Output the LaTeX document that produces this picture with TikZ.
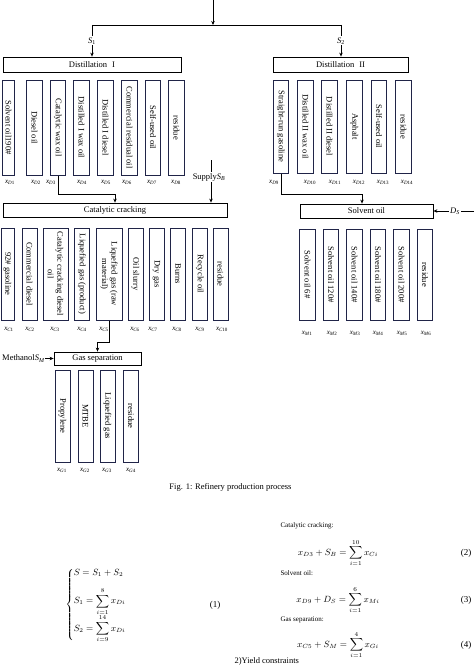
\documentclass[tikz,border=0pt]{standalone}
\usepackage{amsmath}
\usepackage{fontspec}
\setmainfont{Liberation Serif}
\usepackage{tikz}
\usetikzlibrary{arrows.meta}
\usetikzlibrary{positioning}

\definecolor{boxnavy}{RGB}{32,36,72}
\newcommand{\boxfont}{\fontsize{8.5}{9.5}\selectfont}
\newcommand{\labfont}{\fontsize{7}{8}\selectfont}
\newcommand{\eqfont}{\fontsize{9}{11}\selectfont}
\newcommand{\flowvar}[2]{\textit{x}\textsubscript{\textit{#1}#2}}

\begin{document}
\begin{tikzpicture}[
    x=1pt, y=-1pt,
    unitbox/.style={draw, line width=0.8pt, inner sep=0pt, font=\boxfont},
    prodbox/.style={draw=boxnavy, line width=1pt, rotate=-90, inner sep=1pt, align=center, font=\boxfont},
    xlab/.style={inner sep=0pt, font=\labfont},
    flow/.style={draw, line width=0.9pt, -{Stealth[length=4pt,width=3.5pt]}},
    pipe/.style={draw, line width=0.9pt}
]
    \useasboundingbox (0,0) rectangle (474,669);

    % Feed split
    \coordinate (feed) at (213,0);
    \coordinate (split) at (213,25);
    \coordinate (j1) at (92,25);
    \coordinate (j2) at (341,25);

    % Distillation units
    \node[unitbox, minimum width=178, minimum height=15] (dist1) at (92,64.5) {Distillation\hspace{5pt}I};
    \node[unitbox, minimum width=135, minimum height=15] (dist2) at (340.5,64.5) {Distillation\hspace{5pt}II};

    \draw[flow] (feed) -- (split);
    \draw[pipe] (j1) -- (j2);
    \draw[flow] (j1) -- node[fill=white, inner sep=1pt, font=\boxfont] {\textit{S}\textsubscript{1}} (dist1.north);
    \draw[flow] (j2) -- node[fill=white, inner sep=1pt, font=\boxfont] {\textit{S}\textsubscript{2}} (j2 |- dist2.north);

    % Distillation I: products
    \node[prodbox, minimum width=95, minimum height=12] (d1) at (8.5,127.5) {Solvent oil190\#};
    \node[prodbox, minimum width=95, minimum height=15.5] (d2) at (34.5,127.5) {Diesel oil};
    \node[prodbox, minimum width=95, minimum height=15.5] (d3) at (58,127.5) {Catalytic wax oil};
    \node[prodbox, minimum width=95, minimum height=15.5] (d4) at (81.5,127.5) {Distilled I wax oil};
    \node[prodbox, minimum width=95, minimum height=15.5] (d5) at (105.5,127.5) {Distilled I diesel};
    \node[prodbox, minimum width=95, minimum height=15.5] (d6) at (129.5,127.5) {Commercial residual oil};
    \node[prodbox, minimum width=95, minimum height=15.5] (d7) at (153,127.5) {Self-used oil};
    \node[prodbox, minimum width=95, minimum height=15.5] (d8) at (176.5,127.5) {residue};

    \node[xlab] (xd1) at (10,182) {\flowvar{D}{1}};
    \node[xlab] (xd2) at (36,182) {\flowvar{D}{2}};
    \node[xlab] (xd3) at (51,182) {\flowvar{D}{3}};
    \node[xlab] (xd4) at (82,182) {\flowvar{D}{4}};
    \node[xlab] (xd5) at (106,182) {\flowvar{D}{5}};
    \node[xlab] (xd6) at (127,182) {\flowvar{D}{6}};
    \node[xlab] (xd7) at (152,182) {\flowvar{D}{7}};
    \node[xlab] (xd8) at (176,182) {\flowvar{D}{8}};

    % Distillation II: products
    \node[prodbox, minimum width=93, minimum height=15.5] (d9) at (281,126.5) {Straight-run gasoline};
    \node[prodbox, minimum width=93, minimum height=15.5] (d10) at (305.5,126.5) {Distilled II wax oil};
    \node[prodbox, minimum width=93, minimum height=15.5] (d11) at (329.5,126.5) {Distilled II diesel};
    \node[prodbox, minimum width=93, minimum height=15.5] (d12) at (354.5,126.5) {Asphalt};
    \node[prodbox, minimum width=93, minimum height=15.5] (d13) at (379,126.5) {Self-used oil};
    \node[prodbox, minimum width=93, minimum height=15.5] (d14) at (403.5,126.5) {residue};

    \node[xlab] (xd9) at (274,182) {\flowvar{D}{9}};
    \node[xlab] (xd10) at (310,182) {\flowvar{D}{10}};
    \node[xlab] (xd11) at (335,182) {\flowvar{D}{11}};
    \node[xlab] (xd12) at (359,182) {\flowvar{D}{12}};
    \node[xlab] (xd13) at (383,182) {\flowvar{D}{13}};
    \node[xlab] (xd14) at (407,182) {\flowvar{D}{14}};

    % Catalytic cracking and solvent oil units
    \node[unitbox, minimum width=224, minimum height=14] (cat) at (115,210) {Catalytic cracking};
    \node[unitbox, minimum width=133, minimum height=14] (solv) at (366.5,211) {Solvent oil};

    \coordinate (sbtop) at (211,160);
    \node[inner sep=1pt, font=\boxfont] (supply) at (209,177) {Supply\textit{S}\textsubscript{\textit{B}}};
    \draw[pipe] (sbtop) -- (sbtop |- supply.north);
    \draw[flow] (sbtop |- supply.south) -- (sbtop |- cat.north);
    \draw[flow] (d3.east) -- ++(0,19) -| (cat.north);

    \draw[flow] (d9.east) -- ++(0,21) -| ([xshift=-4.5pt]solv.north);
    \coordinate (dsin) at (474,211);
    \node[inner sep=1pt, font=\boxfont] (ds) at (455,211) {\textit{D}\textsubscript{\textit{S}}};
    \draw[pipe] (dsin) -- (ds);
    \draw[flow] (ds) -- (solv.east);

    % Catalytic cracking: products
    \node[prodbox, minimum width=92, minimum height=13] (c1) at (7.5,274) {92\# gasoline};
    \node[prodbox, minimum width=92, minimum height=15] (c2) at (29.5,274) {Commercial diesel};
    \node[prodbox, minimum width=92, minimum height=25] (c3) at (55.5,274) {Catalytic cracking diesel\\oil};
    \node[prodbox, minimum width=92, minimum height=14.5] (c4) at (82,274) {Liquefied gas (product)};
    \node[prodbox, minimum width=92, minimum height=26] (c5) at (109,274) {Liquefied gas (raw\\material)};
    \node[prodbox, minimum width=92, minimum height=15] (c6) at (135.5,274) {Oil slurry};
    \node[prodbox, minimum width=92, minimum height=15] (c7) at (156.5,274) {Dry gas};
    \node[prodbox, minimum width=92, minimum height=15.5] (c8) at (178,274) {Burns};
    \node[prodbox, minimum width=92, minimum height=15.5] (c9) at (200,274) {Recycle oil};
    \node[prodbox, minimum width=92, minimum height=15] (c10) at (220.5,274) {residue};

    \node[xlab] (xc1) at (9,329) {\flowvar{C}{1}};
    \node[xlab] (xc2) at (30,329) {\flowvar{C}{2}};
    \node[xlab] (xc3) at (55,329) {\flowvar{C}{3}};
    \node[xlab] (xc4) at (82,329) {\flowvar{C}{4}};
    \node[xlab] (xc5) at (104,329) {\flowvar{C}{5}};
    \node[xlab] (xc6) at (135,329) {\flowvar{C}{6}};
    \node[xlab] (xc7) at (153,329) {\flowvar{C}{7}};
    \node[xlab] (xc8) at (177,329) {\flowvar{C}{8}};
    \node[xlab] (xc9) at (200,329) {\flowvar{C}{9}};
    \node[xlab] (xc10) at (222,329) {\flowvar{C}{10}};

    % Solvent oil: products
    \node[prodbox, minimum width=91, minimum height=15.5] (m1) at (307.5,274.5) {Solvent oil 6\#};
    \node[prodbox, minimum width=91, minimum height=15.5] (m2) at (331,274.5) {Solvent oil 120\#};
    \node[prodbox, minimum width=91, minimum height=15.5] (m3) at (354.5,274.5) {Solvent oil 140\#};
    \node[prodbox, minimum width=91, minimum height=15.5] (m4) at (378,274.5) {Solvent oil 180\#};
    \node[prodbox, minimum width=91, minimum height=15.5] (m5) at (401.5,274.5) {Solvent oil 200\#};
    \node[prodbox, minimum width=91, minimum height=15.5] (m6) at (425,274.5) {residue};

    \node[xlab] (xm1) at (307,333) {\flowvar{M}{1}};
    \node[xlab] (xm2) at (332,333) {\flowvar{M}{2}};
    \node[xlab] (xm3) at (355,333) {\flowvar{M}{3}};
    \node[xlab] (xm4) at (378,333) {\flowvar{M}{4}};
    \node[xlab] (xm5) at (402,333) {\flowvar{M}{5}};
    \node[xlab] (xm6) at (426,333) {\flowvar{M}{6}};

    % Gas separation
    \node[unitbox, minimum width=87, minimum height=13] (gas) at (97.5,358.5) {Gas separation};
    \node[anchor=east, inner sep=0pt, font=\boxfont] (meth) at (45,358.5) {Methanol\textit{S}\textsubscript{\textit{M}}};
    \draw[flow] (meth) -- (gas.west);
    \draw[flow] (c5.east) -- ++(0,22) -| (gas.north);

    \node[prodbox, minimum width=92, minimum height=15] (g1) at (62.5,416) {Propylene};
    \node[prodbox, minimum width=92, minimum height=15] (g2) at (85.5,416) {MTBE};
    \node[prodbox, minimum width=92, minimum height=15] (g3) at (107.5,416) {Liquefied gas};
    \node[prodbox, minimum width=92, minimum height=15] (g4) at (131,416) {residue};

    \node[xlab] (xg1) at (62,470) {\flowvar{G}{1}};
    \node[xlab] (xg2) at (85,470) {\flowvar{G}{2}};
    \node[xlab] (xg3) at (107,470) {\flowvar{G}{3}};
    \node[xlab] (xg4) at (131,470) {\flowvar{G}{4}};

    \node[font=\boxfont] (caption) at (230.5,487) {Fig. 1: Refinery production process};

    % Balance equations
    \node[anchor=west, font=\eqfont] (eq1) at (62,605) {$\left\{\begin{array}{@{}l@{}}
        S = S_1 + S_2\\[9pt]
        S_1 = \displaystyle\sum_{i=1}^{8} x_{Di}\\[7pt]
        S_2 = \displaystyle\sum_{i=9}^{14} x_{Di}
        \end{array}\right.$};
    \node[font=\eqfont] (eq1n) at (215,605) {(1)};

    \node[anchor=west, font=\labfont] (cattxt) at (277,526) {Catalytic cracking:};
    \node[font=\eqfont] (eq2) at (338,553) {$x_{D3} + S_B = \displaystyle\sum_{i=1}^{10} x_{Ci}$};
    \node[font=\eqfont] (eq2n) at (466,553) {(2)};

    \node[anchor=west, font=\labfont] (solvtxt) at (277,573) {Solvent oil:};
    \node[font=\eqfont] (eq3) at (338,600) {$x_{D9} + D_S = \displaystyle\sum_{i=1}^{6} x_{Mi}$};
    \node[font=\eqfont] (eq3n) at (466,600) {(3)};

    \node[anchor=west, font=\labfont] (gastxt) at (277,620) {Gas separation:};
    \node[font=\eqfont] (eq4) at (338,645) {$x_{C5} + S_M = \displaystyle\sum_{i=1}^{4} x_{Gi}$};
    \node[font=\eqfont] (eq4n) at (466,645) {(4)};

    \node[anchor=west, font=\fontsize{8.5}{10}\selectfont] (yield) at (231,661) {2)Yield constraints};

\end{tikzpicture}
\end{document}
